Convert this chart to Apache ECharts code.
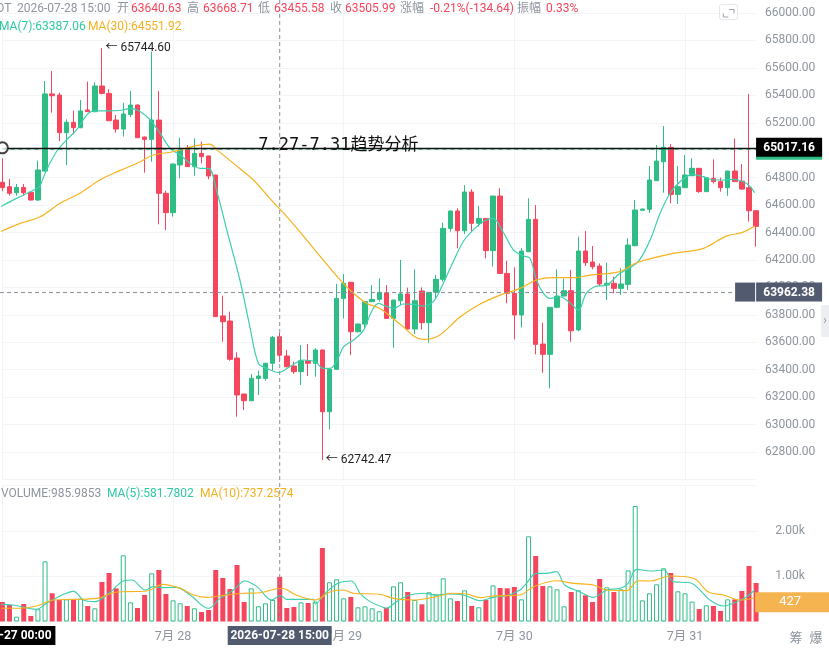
<!DOCTYPE html>
<html><head><meta charset="utf-8">
<script src="https://cdn.jsdelivr.net/npm/echarts@6/dist/echarts.min.js"></script>
<style>html,body{margin:0;padding:0;background:#fff;overflow:hidden}#c{width:829px;height:649px}</style>
</head><body><div id="c"></div>
<script>
// ---------- DATA ----------
const opens  = [64766,64734,64690,64729,64693,64637,64848,65410,65402,65128,65203,65164,65293,65281,65468,65414,65220,65154,65261,65329,65096,65079,65220,64686,64545,64892,65006,64880,64977,64958,64819,63792,63755,63485,63223,63174,63337,63337,63447,63640.63,63500,63427,63386,63466,63447,63544,63094,63403,63920,64037,63677,63733,63896,63913,63961,63774,63903,63952,63697,63974,63743,63964,64059,64430,64557,64413,64695,64467,64503,64268,64666,64102,63957,63799,64260,64496,63587,63512,63855,63937,63976,63690,64265,64185,64156,64017,64030,63993,64022,64304,64562,64569,64778,64916,65021,64678,64727,64814,64868,64698,64795,64771,64727,64848,64775,64727,64559];
const closes = [64727,64686,64729,64690,64637,64856,65410,65397,65128,65203,65164,65286,65281,65468,65414,65215,65154,65264,65329,65091,65079,65220,64686,64545,64899,65001,64880,64977,64953,64812,63787,63750,63476,63216,63174,63337,63354,63447,63636,63505.99,63422,63386,63466,63447,63544,63094,63403,63920,64030,63677,63733,63896,63913,63964,63774,63908,63952,63697,63903,63743,63964,64059,64430,64557,64413,64695,64467,64503,64268,64666,64102,63957,63799,64265,64496,63585,63512,63855,63937,63976,63684,64265,64180,64151,64025,64030,63993,64025,64309,64564,64571,64783,64921,65021,64678,64734,64819,64868,64698,64800,64771,64727,64848,64771,64717,64559,64445];
const lows   = [64702,64669,64669,64669,64632,64632,64845,65274,65067,64892,65116,65160,65278,65276,65407,65212,65128,65099,65240,65089,64836,64916,64460,64418,64516,64795,64878,64814,64904,64788,63785,63604,63466,63058,63106,63170,63216,63320,63393,63455.58,63417,63369,63289,63354,63349,62742.47,62965,63400,63774,63507,63672,63702,63893,63896,63772,63561,63872,63695,63660,63694,63597,63920,64042,64406,64285,64389,64406,64443,64212,64151,64100,63884,63621,63709,64258,63512,63378,63264,63852,63935,63604,63680,64156,64132,64010,63908,63957,63944,63981,64300,64560,64545,64775,64690,64613,64608,64725,64812,64690,64695,64758,64698,64668,64768,64710,64479,64297];
const highs  = [64941,64790,64754,64754,64698,64924,65504,65577,65419,65225,65288,65366,65500,65495,65744.60,65444,65257,65346,65431,65335,65099,65718,65431,64705,64905,65091,65038,65086,65062,64960,64821,63940,63823,63527,63225,63369,63393,63450,63646,63668.71,63544,63459,63580,63587,63556,63546,63405,64025,64098,64040,63736,63900,64017,64066,64017,63910,64200,63998,64132,64000,63966,64090,64472,64560,64576,64746,64715,64593,64505,64668,64722,64195,64146,64285,64649,64600,63743,63857,64132,64066,64127,64370,64411,64302,64175,64180,64078,64139,64358,64637,64575,64885,65038,65176,65045,64885,64965,64941,64870,64803,64933,64800,64850,65086,64899,65410,64562];
const volumes = [430,364,107,386,121,269,1328,622,475,489,
  475,504,342,291,872,1071,732,1461,423,298,
  585,1063,1137,607,467,401,342,291,210,254,
  1137,960,717,1247,430,732,335,401,475,985.99,
  298,320,423,408,438,1622,865,931,511,541,
  313,335,291,225,305,776,865,651,475,379,
  644,592,953,511,453,688,342,313,475,798,
  739,732,762,489,1880,1446,784,776,710,335,
  651,688,578,430,938,754,651,710,1129,2550,
  467,622,820,1174,1071,666,622,438,276,357,
  342,232,489,489,673,1225,850];
// moving-average curves as [candle index, value]
const ma7Pts = [[-0.3,64588],[2.0,64649],[4.4,64710],[5.2,64734],[6.2,64856],[7.6,64989],[9.0,65074],[10.4,65147],[12.1,65269],[13.3,65286],[15.1,65286],[17.0,65293],[18.0,65305],[19.4,65281],[20.8,65220],[22.2,65123],[23.6,65013],[25.0,64965],[26.4,64904],[27.8,64868],[29.0,64868],[30.1,64710],[31.5,64430],[33.4,64054],[34.8,63714],[36.0,63447],[37.2,63410],[38.8,63380],[40.4,63422],[42.3,63471],[44.0,63459],[45.1,63410],[46.1,63410],[47.2,63483],[48.0,63568],[49.4,63617],[50.8,63689],[51.9,63823],[52.9,63884],[53.8,63865],[55.0,63847],[56.4,63879],[57.8,63876],[59.2,63864],[60.6,63896],[62.0,64029],[63.4,64187],[64.8,64333],[66.2,64418],[67.6,64479],[69.0,64503],[70.4,64406],[71.9,64272],[73.3,64229],[74.2,64212],[75.1,64054],[76.1,63957],[77.0,63920],[78.4,63932],[79.8,63889],[81.0,63835],[82.1,63957],[83.3,64005],[85.0,64017],[86.8,64102],[88.2,64139],[89.6,64200],[91.1,64345],[92.5,64540],[93.9,64686],[95.3,64770],[97.1,64824],[98.6,64807],[100.0,64783],[101.4,64783],[102.8,64788],[104.2,64770],[105.1,64739],[105.8,64690]];
const ma30Pts = [[-0.3,64406],[2.5,64467],[5.3,64515],[8.1,64613],[10.9,64686],[13.7,64783],[16.5,64851],[19.4,64916],[21.2,64965],[24.0,64989],[27.1,65031],[29.2,65045],[30.1,65006],[32.5,64904],[35.3,64783],[37.6,64649],[40.0,64516],[42.8,64345],[46.1,64139],[48.4,64005],[51.2,63884],[53.1,63847],[55.9,63733],[59.1,63621],[61.3,63646],[64.4,63786],[67.2,63879],[70.0,63944],[72.8,63993],[75.1,64054],[77.5,64071],[80.5,64071],[82.6,64090],[86.8,64115],[89.2,64180],[93.9,64243],[98.6,64285],[101.8,64374],[104.0,64399],[105.8,64447]];
const volMa5Pts = [[-0.3,379],[1.5,364],[4.8,269],[6.2,401],[7.9,548],[10,666],[11.4,475],[13,438],[15.1,636],[17,894],[18.2,916],[20.1,695],[21.2,769],[22.6,747],[24.5,754],[26.4,585],[29,291],[30.6,511],[32.5,695],[34.1,894],[35.8,769],[37.9,475],[39.1,575],[40,489],[43.7,489],[44,386],[45.4,622],[47.2,842],[49.1,894],[50.3,622],[51.7,438],[53.1,342],[54,291],[55.4,438],[57.3,585],[59.2,622],[61.1,585],[62.5,607],[64.8,585],[67.2,460],[69,533],[70.9,570],[72.8,695],[73.7,842],[75.1,1063],[76.5,1063],[77.9,1100],[79.1,806],[81.2,659],[83.1,533],[85,695],[86.9,732],[88,842],[89.2,1151],[91.1,1115],[93,1137],[94.4,879],[96.7,857],[99.5,475],[101.4,342],[103.3,438],[104.7,548],[105.8,695]];
const volMa10Pts = [[-0.3,291],[2.5,291],[4.8,342],[7.2,475],[10,489],[13.3,511],[15.6,636],[17.5,659],[20.3,673],[22.6,820],[25,732],[26.9,585],[28.7,533],[31.5,585],[33.9,622],[36.2,636],[39.3,735],[41.3,585],[44,475],[46.1,659],[48,695],[49.4,622],[53.1,600],[55,511],[57.8,475],[60.6,533],[63.4,622],[65.3,607],[67.2,526],[69,563],[72.8,585],[74.7,769],[77.9,901],[80.3,842],[83.1,806],[85,695],[87.8,681],[89.4,901],[91.1,894],[93.9,1004],[97.2,953],[99.3,651],[101.4,585],[103.7,475],[105.8,526]];
const days = [27,28,29,30,31];
const priceTickStep = 200;
const volTickStep = 1000;
const trendLevel = 65017.16;
const trendText = '7.27-7.31趋势分析';
const crossIndex = 39;
const crossPrice = 63962.38;
const crossTime = '2026-07-28 15:00';
const anchorTime = '2026-07-27 00:00';
const highMark = [14, 65744.60];
const lowMark = [45, 62742.47];
const lastVolLabel = 427;
const headerTokens = [[-3.5,'DT','g'],[17,'2026-07-28 15:00','g'],[117,'开','g'],[131,'63640.63','r'],[187,'高','g'],[203,'63668.71','r'],[258,'低','g'],[274,'63455.58','r'],[330,'收','g'],[345,'63505.99','r'],[400,'涨幅','g'],[430,'-0.21%(-134.64)','r'],[517,'振幅','g'],[546,'0.33%','r']];
const maTokens = [[-1,'MA(7):63387.06','t'],[88,'MA(30):64551.92','o']];
const volTokens = [[1,'VOLUME:985.9853','g'],[107,'MA(5):581.7802','t'],[200,'MA(10):737.2574','o']];

// ---------- STYLE ----------
const UP='#2EBD85', DOWN='#F6465D', TEAL='#3ccfae', ORANGE='#f7b21c', GRAY='#8e959e', GRIDC='#f3f4f6', SLATE='#515a6e';
const FONT='Roboto, "Noto Sans CJK SC", sans-serif';
const colorOf = {g:GRAY, r:DOWN, t:'#2fc9a4', o:'#f5b020'};

const n = opens.length;
const cats = [];
for (let i=0;i<n;i++){ const d=days[Math.floor(i/24)], h=i%24; cats.push('2026-07-'+d+' '+(h<10?'0':'')+h+':00'); }
const candleData = opens.map((o,i)=>[o, closes[i], lows[i], highs[i]]);
const volData = volumes.map((v,i)=> closes[i]>=opens[i]
  ? {value:v, itemStyle:{color:'rgba(255,255,255,0)', borderColor:UP, borderWidth:1}}
  : {value:v, itemStyle:{color:DOWN, borderWidth:0}});

const GL=2.4, GR=72.9;
const chart = echarts.init(document.getElementById('c'), null, {renderer:'canvas'});
const dayLine = (i)=> i%24===0;
const option = {
  animation:false,
  textStyle:{fontFamily:FONT},
  grid:[{left:GL,right:GR,top:13,height:466.5},{left:GL,right:GR,top:485.6,height:135.9}],
  xAxis:[
    {type:'category',gridIndex:0,data:cats,boundaryGap:false,axisLine:{show:false},axisTick:{show:false},axisLabel:{show:false},
     splitLine:{show:true,interval:dayLine,lineStyle:{color:GRIDC}}},
    {type:'category',gridIndex:1,data:cats,boundaryGap:false,axisLine:{show:false},axisTick:{show:false},
     axisLabel:{show:true,interval:(i)=>i%24===0&&i>0,formatter:(v)=>'7月 '+v.slice(8,10),color:GRAY,fontSize:12.5,margin:9},
     splitLine:{show:true,interval:dayLine,lineStyle:{color:GRIDC}}},
    {type:'value',gridIndex:0,min:0,max:n-1,show:false},
    {type:'value',gridIndex:1,min:0,max:n-1,show:false}
  ],
  yAxis:[
    {type:'value',gridIndex:0,position:'right',min:62600,max:66000,interval:priceTickStep,scale:true,
     axisLine:{show:false},axisTick:{show:false},
     axisLabel:{align:'center',margin:34,color:GRAY,fontSize:12,formatter:(v)=> v<=62600?'':v.toFixed(2)},
     splitLine:{lineStyle:{color:GRIDC}}},
    {type:'value',gridIndex:1,position:'right',min:0,max:3000,interval:volTickStep,
     axisLine:{show:false},axisTick:{show:false},
     axisLabel:{align:'center',margin:34,color:GRAY,fontSize:12,formatter:(v)=> (v===0||v===3000)?'':(v/1000).toFixed(2)+'k'},
     splitLine:{lineStyle:{color:GRIDC}}}
  ],
  series:[
    {type:'candlestick',name:'k',xAxisIndex:0,yAxisIndex:0,data:candleData,barWidth:5,clip:false,
     itemStyle:{color:UP,color0:DOWN,borderColor:UP,borderColor0:DOWN,borderWidth:1},
     markLine:{symbol:'none',silent:true,animation:false,label:{show:false},
       data:[
         {yAxis:trendLevel-10,lineStyle:{color:UP,type:[4,4],width:1.5}},
         {yAxis:trendLevel,lineStyle:{color:'#111',type:'solid',width:1.3}}
       ]},
     markPoint:{symbol:'circle',symbolSize:1,silent:true,itemStyle:{color:'rgba(0,0,0,0)'},
       label:{show:true,position:'right',distance:3,color:'#222',fontSize:12},
       data:[
         {coord:highMark,label:{formatter:'← '+highMark[1].toFixed(2)}},
         {coord:lowMark,label:{formatter:'← '+lowMark[1].toFixed(2)}}
       ]}
    },
    {type:'line',name:'MA7',xAxisIndex:2,yAxisIndex:0,data:ma7Pts,smooth:0.35,symbol:'none',lineStyle:{width:1.2,color:TEAL},z:4},
    {type:'line',name:'MA30',xAxisIndex:2,yAxisIndex:0,data:ma30Pts,smooth:0.35,symbol:'none',lineStyle:{width:1.2,color:ORANGE},z:4},
    {type:'scatter',xAxisIndex:0,yAxisIndex:0,data:[[0,trendLevel]],symbol:'circle',symbolSize:11,clip:false,
     itemStyle:{color:'#fff',borderColor:'#111',borderWidth:2},z:6,silent:true},
    {type:'bar',name:'vol',xAxisIndex:1,yAxisIndex:1,data:volData,barWidth:5},
    {type:'line',xAxisIndex:3,yAxisIndex:1,data:volMa5Pts,smooth:0.35,symbol:'none',lineStyle:{width:1.1,color:TEAL},z:4},
    {type:'line',xAxisIndex:3,yAxisIndex:1,data:volMa10Pts,smooth:0.35,symbol:'none',lineStyle:{width:1.1,color:ORANGE},z:4}
  ]
};
chart.setOption(option);

// ---------- annotations positioned through the chart's own scales ----------
function T(x,y,text,fill,extra){ return {type:'text',x:x,y:y,z:100,silent:true,
  style:Object.assign({text:text,fill:fill,font:'12px '+FONT,textAlign:'left',align:'left',textVerticalAlign:'middle',verticalAlign:'middle'},extra||{})}; }
function Rc(x,y,w,h,fill,z){ return {type:'rect',z:z||90,silent:true,shape:{x:x,y:y,width:w,height:h},style:{fill:fill}}; }
function Ln(x1,y1,x2,y2,stroke,dash,w){ return {type:'line',z:80,silent:true,shape:{x1:x1,y1:y1,x2:x2,y2:y2},style:{stroke:stroke,lineWidth:w||1,lineDash:dash||null}}; }

const pTrend = chart.convertToPixel({seriesIndex:0},[36,trendLevel]);
const pCross = chart.convertToPixel({seriesIndex:0},[crossIndex,crossPrice]);
const pAnchor = chart.convertToPixel({seriesIndex:4},[0,0]);
const pVol = chart.convertToPixel({seriesIndex:4},[crossIndex,lastVolLabel]);
const axisX = 829-GR;
const g = [];
headerTokens.forEach(t=>g.push(T(t[0],9,t[1],colorOf[t[2]])));
maTokens.forEach(t=>g.push(T(t[0],27,t[1],colorOf[t[2]])));
volTokens.forEach(t=>g.push(T(t[0],494,t[1],colorOf[t[2]])));
// trend text
g.push(T(pTrend[0],pTrend[1]-2,trendText,'#111',{font:'17px "DejaVu Sans Mono", "Noto Sans CJK SC", monospace'}));
// price labels right
g.push(Rc(axisX,pTrend[1]-1,66,13,UP,91));
g.push(Rc(axisX,pTrend[1]-10,66,19,'#000',92));
g.push(T(axisX+33,pTrend[1],trendLevel.toFixed(2),'#fff',{font:'bold 12px '+FONT,textAlign:'center',align:'center'}));
// crosshair
g.push(Ln(pCross[0],0,pCross[0],621.5,'#8a9099',[4,3]));
g.push(Ln(0,pCross[1],axisX-22,pCross[1],'#8a9099',[4,3]));
g.push(Rc(axisX,pCross[1]-10,66,19,SLATE));
g.push(T(axisX+33,pCross[1],crossPrice.toFixed(2),'#fff',{font:'bold 12px '+FONT,textAlign:'center',align:'center'}));
g.push(Rc(axisX-21,pCross[1]-10,20,19,SLATE));
g.push(Ln(axisX-16,pCross[1],axisX-6,pCross[1],'#fff',null,1.3));
g.push(Ln(axisX-11,pCross[1]-5,axisX-11,pCross[1]+5,'#fff',null,1.3));
// bottom time labels
g.push(Rc(pCross[0]-52,626,104,19,SLATE));
g.push(T(pCross[0],635.5,crossTime,'#fff',{font:'bold 12px '+FONT,textAlign:'center',align:'center'}));
g.push(Rc(pAnchor[0]-53,626,106,19,'#000'));
g.push(T(pAnchor[0],635.5,anchorTime,'#fff',{font:'bold 12px '+FONT,textAlign:'center',align:'center'}));
// last volume label
g.push(Rc(axisX-1,pVol[1]-10,74,20,'#f5b450'));
g.push(Ln(axisX+2,pVol[1],axisX+6,pVol[1],'#fff',null,1));
g.push(T(axisX+34,pVol[1],String(lastVolLabel),'#fff',{font:'13px '+FONT,textAlign:'center',align:'center'}));
// misc chrome
g.push(T(796,637,'筹',GRAY,{font:'13px "Noto Sans CJK SC"',textAlign:'center',align:'center'}));
g.push(T(816,637,'爆',GRAY,{font:'13px "Noto Sans CJK SC"',textAlign:'center',align:'center'}));
g.push({type:'rect',z:90,silent:true,shape:{x:719.5,y:4.5,width:18,height:15,r:2},style:{fill:'#fff',stroke:'#e3e6ea',lineWidth:1}});
g.push({type:'polyline',z:91,silent:true,shape:{points:[[729,9.5],[734,9.5],[734,13.5]]},style:{stroke:'#9aa1ab',fill:null,lineWidth:1}});
g.push({type:'polyline',z:91,silent:true,shape:{points:[[723.3,13.5],[723.3,17],[728.3,17]]},style:{stroke:'#9aa1ab',fill:null,lineWidth:1}});
g.push({type:'rect',z:90,silent:true,shape:{x:821,y:305,width:10,height:32,r:2},style:{fill:'#eceef1'}});
g.push(T(825,321,'›',GRAY,{font:'12px '+FONT,textAlign:'center',align:'center'}));
chart.setOption({graphic:g});
</script></body></html>
